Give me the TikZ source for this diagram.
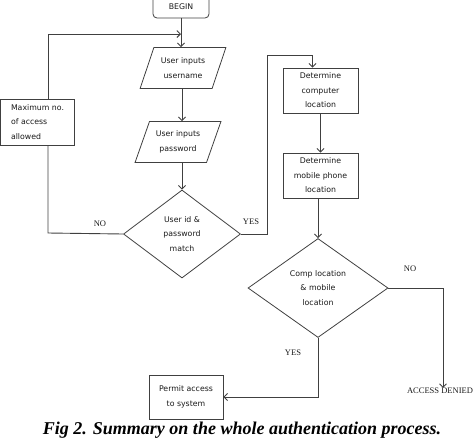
\documentclass[tikz,border=0pt]{standalone}
\usepackage{fontspec}
\setmainfont{Liberation Serif}
\newfontfamily\boxfont{DejaVu Sans}
\usetikzlibrary{arrows.meta, positioning, calc, shapes.geometric}

\begin{document}
\begin{tikzpicture}[x=1pt, y=-1pt,
    every node/.style={font=\boxfont\fontsize{7.8}{14.5}\selectfont, text=black!90, align=center, inner sep=1pt},
    box/.style={draw=black!75, line width=0.8pt, rectangle, minimum width=75pt, minimum height=45pt},
    io/.style={draw=black!75, line width=0.8pt, trapezium, trapezium left angle=64, trapezium right angle=116,
        trapezium stretches=true, minimum width=86pt, minimum height=41pt},
    decision/.style={draw=black!75, line width=0.8pt, diamond},
    lbl/.style={font=\fontsize{8.5}{9}\selectfont, text=black!90},
    flow/.style={draw=black!75, line width=0.9pt},
    arr/.style={flow, -{Straight Barb[length=3.5pt, width=7pt]}}]
    \useasboundingbox (0,0) rectangle (474,440);

    % main column
    \node[draw=black!75, line width=0.8pt, rounded corners=4pt, minimum width=56pt, minimum height=22pt] (begin) at (181,7) {BEGIN};
    \node[io] (user) at (183,68) {User inputs\\username};
    \node[io] (pass) at (178,142) {User inputs\\password};
    \node[decision, minimum width=117pt, minimum height=88pt] (match) at (182,234) {User id \&\\password\\match};
    \node[box, minimum width=74pt, minimum height=46pt, align=left] (maxno) at (37.5,122) {Maximum no.\\of access\\allowed};

    % location checks
    \node[box] (comp) at (320.5,90.5) {Determine\\computer\\location};
    \node[box] (mobile) at (320.5,175.5) {Determine\\mobile phone\\location};
    \node[decision, minimum width=140pt, minimum height=99pt] (check) at (318,288) {Comp location\\\& mobile\\location};
    \node[box, minimum width=74pt, minimum height=44pt] (permit) at (186,397) {Permit access\\to system};
    \node[lbl, inner sep=0pt] (denied) at (440,391) {ACCESS DENIED};

    \coordinate (loop) at (181,34);
    \coordinate (noturn) at (48,233);

    \draw[arr] (begin.south -| loop) -- (loop |- user.north);
    \draw[arr] (user.south -| 182,0) -- (182,0 |- pass.north);
    \draw[arr] (pass.south -| match.north) -- (match.north);
    \draw[flow] (match.west) -- (noturn) -- (noturn |- maxno.south);
    \draw[arr] (noturn |- maxno.north) |- (loop);
    \draw[arr] (match.east) -| (267,55) -| ([xshift=-8pt]comp.north);
    \draw[arr] (comp.south) -- (mobile.north);
    \draw[arr] (mobile.south -| check.north) -- (check.north);
    \draw[arr] (check.east) -| (denied.north -| 443,0);
    \draw[arr] (check.south) |- (permit.east);

    \node[lbl] (no1) at (100,224) {NO};
    \node[lbl] (yes1) at (251,222) {YES};
    \node[lbl] (no2) at (410,269) {NO};
    \node[lbl] (yes2) at (293,353) {YES};

    \node[font=\bfseries\itshape\fontsize{18}{20}\selectfont, text=black] (caption) at (242,430) {Fig 2. Summary on the whole authentication process.};
\end{tikzpicture}
\end{document}
